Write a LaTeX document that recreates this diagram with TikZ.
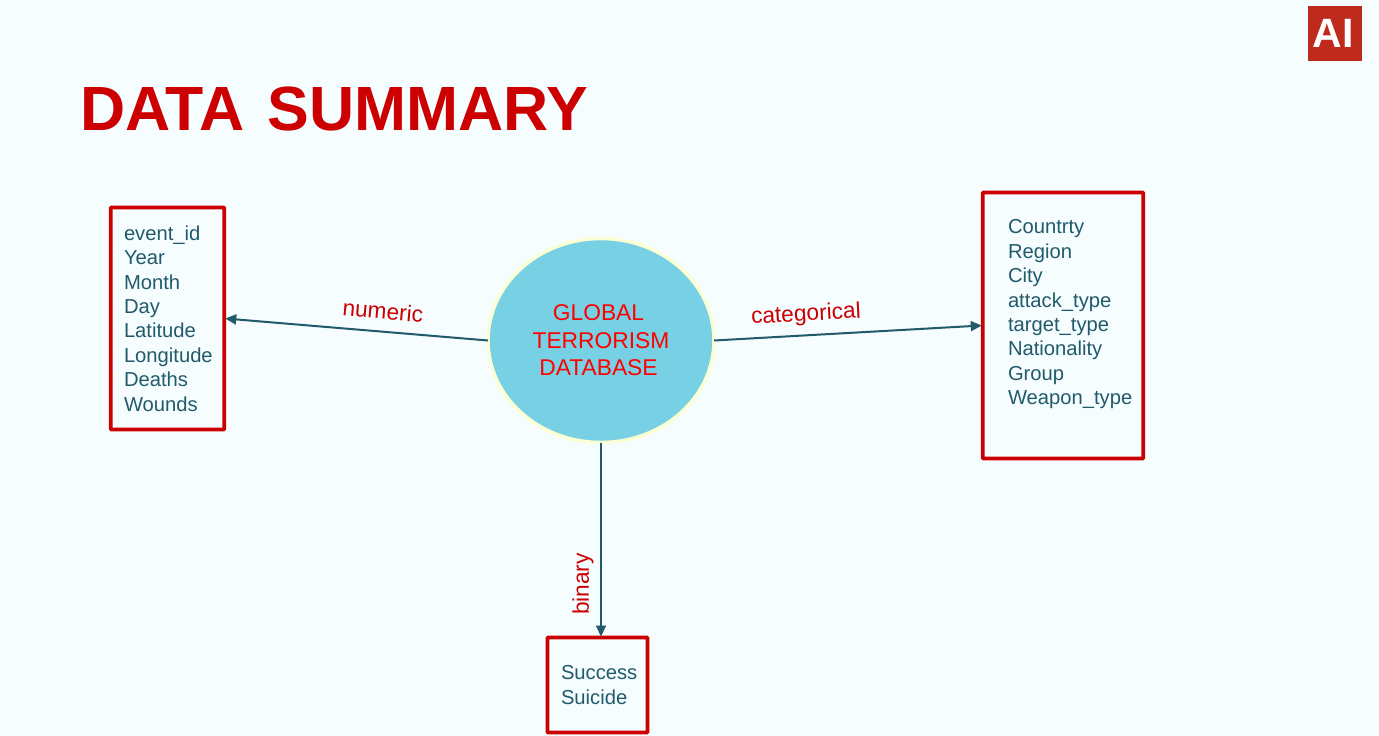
\documentclass[tikz,border=0pt]{standalone}
\usepackage{fontspec}
\usepackage{xcolor}
\usepackage{tikz}
\usetikzlibrary{arrows.meta,shapes.geometric}
\setmainfont{Liberation Sans}
\definecolor{page}{HTML}{F5FDFF}
\definecolor{crimson}{HTML}{CC0000}
\definecolor{signal}{HTML}{FF0000}
\definecolor{ink}{HTML}{215A6B}
\definecolor{sky}{HTML}{78D0E4}
\definecolor{halo}{HTML}{FBFFD6}
\definecolor{logored}{HTML}{BE2A1C}
\tikzset{
  listbox/.style={draw=crimson, line width=3.8pt, rounded corners=0.8pt, inner sep=0pt, outer sep=1pt, align=left, text=ink,
    font=\fontsize{20.2}{24.4}\selectfont},
  hub/.style={ellipse, draw=halo, line width=3.5pt, fill=sky, inner sep=0pt, outer sep=0pt, minimum width=226pt, minimum height=204pt,
    align=center, text=signal, font=\fontsize{22.8}{27.5}\selectfont},
  link/.style={-{Triangle[length=11pt,width=10pt]}, line width=2pt, draw=ink},
  edgetag/.style={text=crimson, inner sep=0pt, font=\fontsize{22.7}{26}\selectfont}
}
\begin{document}
\begin{tikzpicture}[x=1pt,y=-1pt]
  \fill[page] (0,0) rectangle (1379,736);
  \node[fill=logored, text=white, inner sep=0pt, minimum width=54pt, minimum height=55pt,
    font=\fontsize{41}{41}\selectfont\bfseries] (logo) at (1335,33.5) {AI\hspace*{4pt}};
  \node[anchor=base west, inner sep=0pt, text=crimson, font=\fontsize{62.5}{64}\selectfont\bfseries] (title) at (80,130) {DATA\hspace{6pt} SUMMARY};
  % centre and the three lists
  \node[hub] (gtd) at (601,340.5) {GLOBAL\hspace*{5pt}\\TERRORISM\hspace*{5pt}\\DATABASE\hspace*{5pt}};
  \node[listbox, minimum width=113.5pt, minimum height=222pt, text width=87pt] (numlist) at (167.5,318.5)
    {event\_id\\Year\\Month\\Day\\Latitude\\Longitude\\Deaths\\Wounds};
  \node[listbox, minimum width=160.5pt, minimum height=266pt, text width=110pt] (catlist) at (1063,325.5)
    {Countrty\\Region\\City\\attack\_type\\target\_type\\Nationality\\Group\\\mbox{Weapon\_type}\\[2pt]\mbox{}};
  \node[listbox, minimum width=100pt, minimum height=95pt, text width=73pt] (binlist) at (597.5,685)
    {\mbox{Success}\\\mbox{Suicide}};
  % arrows
  \draw[link] (gtd.west) -- (numlist.east);
  \draw[link] (gtd.east) -- (catlist.west);
  \draw[link] (gtd.south) -- (gtd.south |- binlist.north);
  \node[edgetag, rotate=-5] (numtag) at (383,311) {numeric};
  \node[edgetag, rotate=3] (cattag) at (806,315) {categorical};
  \node[edgetag, rotate=90] (bintag) at (583,584) {binary};
\end{tikzpicture}
\end{document}
